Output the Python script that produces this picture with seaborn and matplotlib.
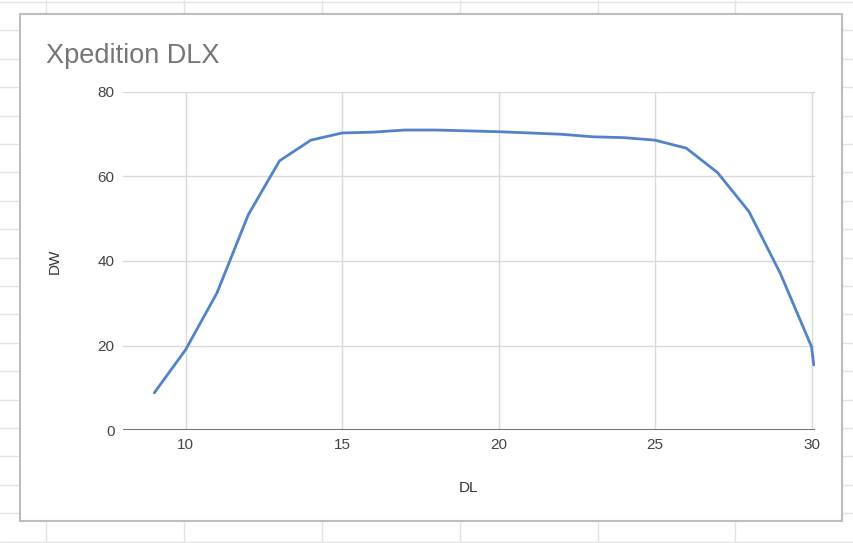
import numpy as np
import pandas as pd

import matplotlib.pyplot as plt
import matplotlib.patches as patches
from matplotlib.lines import Line2D

import seaborn as sns

# values
dl = [9, 10, 11, 12, 13, 14, 15, 16, 17, 18, 19, 20, 21, 22, 23, 24, 25,
      26, 27, 28, 29, 30, 30.07]
dw = [8.8, 19.0, 32.4, 50.9, 63.7, 68.6, 70.3, 70.5, 71.0, 71.0, 70.8, 70.6,
      70.3, 70.0, 69.4, 69.2, 68.6, 66.7, 60.9, 51.7, 37.1, 19.7, 15.4]
x_ticks = [10, 15, 20, 25, 30]
y_ticks = [0, 20, 40, 60, 80]

sns.set_theme(style="whitegrid")
plt.rcParams["font.family"] = ["Liberation Sans", "DejaVu Sans"]

W, H = 854, 543
fig = plt.figure(figsize=(W / 100, H / 100), dpi=100)

# spreadsheet cells behind the chart
for y in np.arange(2, H, 28.4):
    fig.add_artist(Line2D([0, 1], [1 - y / H] * 2, color="#e3e3e3", lw=1, zorder=0))
for x in [46, 184, 322, 460, 598, 735]:
    fig.add_artist(Line2D([x / W] * 2, [0, 1], color="#e3e3e3", lw=1, zorder=0))

# chart box
box = patches.Rectangle(
    (20 / W, 1 - 521 / H), 822 / W, 507 / H,
    transform=fig.transFigure, facecolor="white", edgecolor="#bdbdbd",
    lw=1.5, zorder=1,
)
fig.add_artist(box)

ax = fig.add_axes([123 / W, 1 - 430 / H, 692 / W, 338 / H], zorder=2)
ax.set_facecolor("none")

df = pd.DataFrame({"DL": dl, "DW": dw})
sns.lineplot(data=df, x="DL", y="DW", ax=ax, color="#5282c8", lw=2)

ax.set_xlim(8, 30.11)
ax.set_ylim(0, 80)
ax.set_xticks(x_ticks)
ax.set_yticks(y_ticks)
ax.grid(True, color="#d9d9d9", lw=1)
ax.axhline(0, color="#616161", lw=2, zorder=3)
for s in ax.spines.values():
    s.set_visible(False)
ax.tick_params(axis="both", length=0, labelsize=11, labelcolor="#444444")
ax.tick_params(axis="x", pad=6)
ax.tick_params(axis="y", pad=6)

ax.set_xlabel("DL", fontsize=11, color="#333333", labelpad=21)
ax.set_ylabel("DW", fontsize=11, color="#333333", labelpad=26)

fig.text(46 / W, 1 - 63 / H, "Xpedition DLX", fontsize=19.5, color="#757575",
         va="baseline", ha="left")

fig.savefig("out.png", dpi=100)
